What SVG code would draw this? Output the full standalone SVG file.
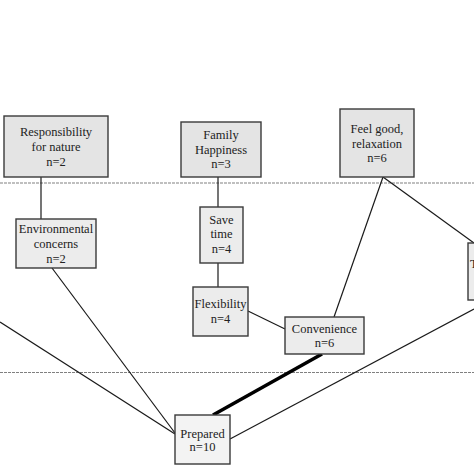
<svg xmlns="http://www.w3.org/2000/svg" width="474" height="474" viewBox="0 0 474 474">
<style>
.box{stroke:#3a3a3a;stroke-width:1.4}
.top{fill:#e4e4e4}
.mid{fill:#ececec}
.low{fill:#f3f3f3}
.lbl{font-family:"Liberation Serif","Times New Roman",serif;font-size:12.5px;fill:#222;text-anchor:middle}
.ln{stroke:#1a1a1a;stroke-width:1.2;fill:none}
.dash{stroke:#808080;stroke-width:1.2;stroke-dasharray:3 1;fill:none}
</style>
<rect width="474" height="474" fill="#fff"/>
<g id="levels">
<line class="dash" x1="0" y1="183" x2="474" y2="183"/>
<line class="dash" x1="0" y1="372.5" x2="474" y2="372.5"/>
</g>
<g id="connectors">
<line class="ln" x1="41" y1="177" x2="41" y2="219"/>
<line class="ln" x1="218" y1="177" x2="218" y2="207"/>
<line class="ln" x1="218" y1="263" x2="218" y2="287"/>
<line class="ln" x1="248" y1="311" x2="285" y2="329"/>
<line class="ln" x1="334" y1="317" x2="383" y2="177"/>
<line class="ln" x1="383" y1="177" x2="474" y2="243"/>
<line class="ln" x1="52" y1="268" x2="175" y2="433"/>
<line class="ln" x1="0" y1="322" x2="175" y2="434"/>
<line class="ln" x1="230" y1="439" x2="474" y2="309"/>
<line x1="213" y1="415" x2="322" y2="354" stroke="#000" stroke-width="3.5"/>
</g>
<g id="responsibility">
<rect class="box top" x="4" y="116" width="104" height="61"/>
<text class="lbl" x="56" y="136">Responsibility</text>
<text class="lbl" x="56" y="151">for nature</text>
<text class="lbl" x="56" y="166">n=2</text>
</g>
<g id="family">
<rect class="box top" x="181" y="122" width="80" height="55"/>
<text class="lbl" x="221" y="139">Family</text>
<text class="lbl" x="221" y="154">Happiness</text>
<text class="lbl" x="221" y="168">n=3</text>
</g>
<g id="feelgood">
<rect class="box top" x="340" y="109" width="74" height="68"/>
<text class="lbl" x="377" y="133">Feel good,</text>
<text class="lbl" x="377" y="148">relaxation</text>
<text class="lbl" x="377" y="162">n=6</text>
</g>
<g id="environmental">
<rect class="box mid" x="16" y="219" width="80" height="49"/>
<text class="lbl" x="56" y="233">Environmental</text>
<text class="lbl" x="56" y="248">concerns</text>
<text class="lbl" x="56" y="263">n=2</text>
</g>
<g id="savetime">
<rect class="box mid" x="200" y="207" width="43" height="56"/>
<text class="lbl" x="221.5" y="224">Save</text>
<text class="lbl" x="221.5" y="238">time</text>
<text class="lbl" x="221.5" y="253">n=4</text>
</g>
<g id="flexibility">
<rect class="box mid" x="193" y="287" width="55" height="49"/>
<text class="lbl" x="220.5" y="308">Flexibility</text>
<text class="lbl" x="220.5" y="323">n=4</text>
</g>
<g id="convenience">
<rect class="box mid" x="285" y="317" width="79" height="37"/>
<text class="lbl" x="324.5" y="333">Convenience</text>
<text class="lbl" x="324.5" y="347">n=6</text>
</g>
<g id="right">
<rect class="box mid" x="468" y="243" width="20" height="57"/>
<text class="lbl" x="470" y="268" style="text-anchor:start">T</text>
</g>
<g id="prepared">
<rect class="box low" x="175" y="415" width="55" height="49"/>
<text class="lbl" x="202.5" y="438">Prepared</text>
<text class="lbl" x="202.5" y="451">n=10</text>
</g>
</svg>
